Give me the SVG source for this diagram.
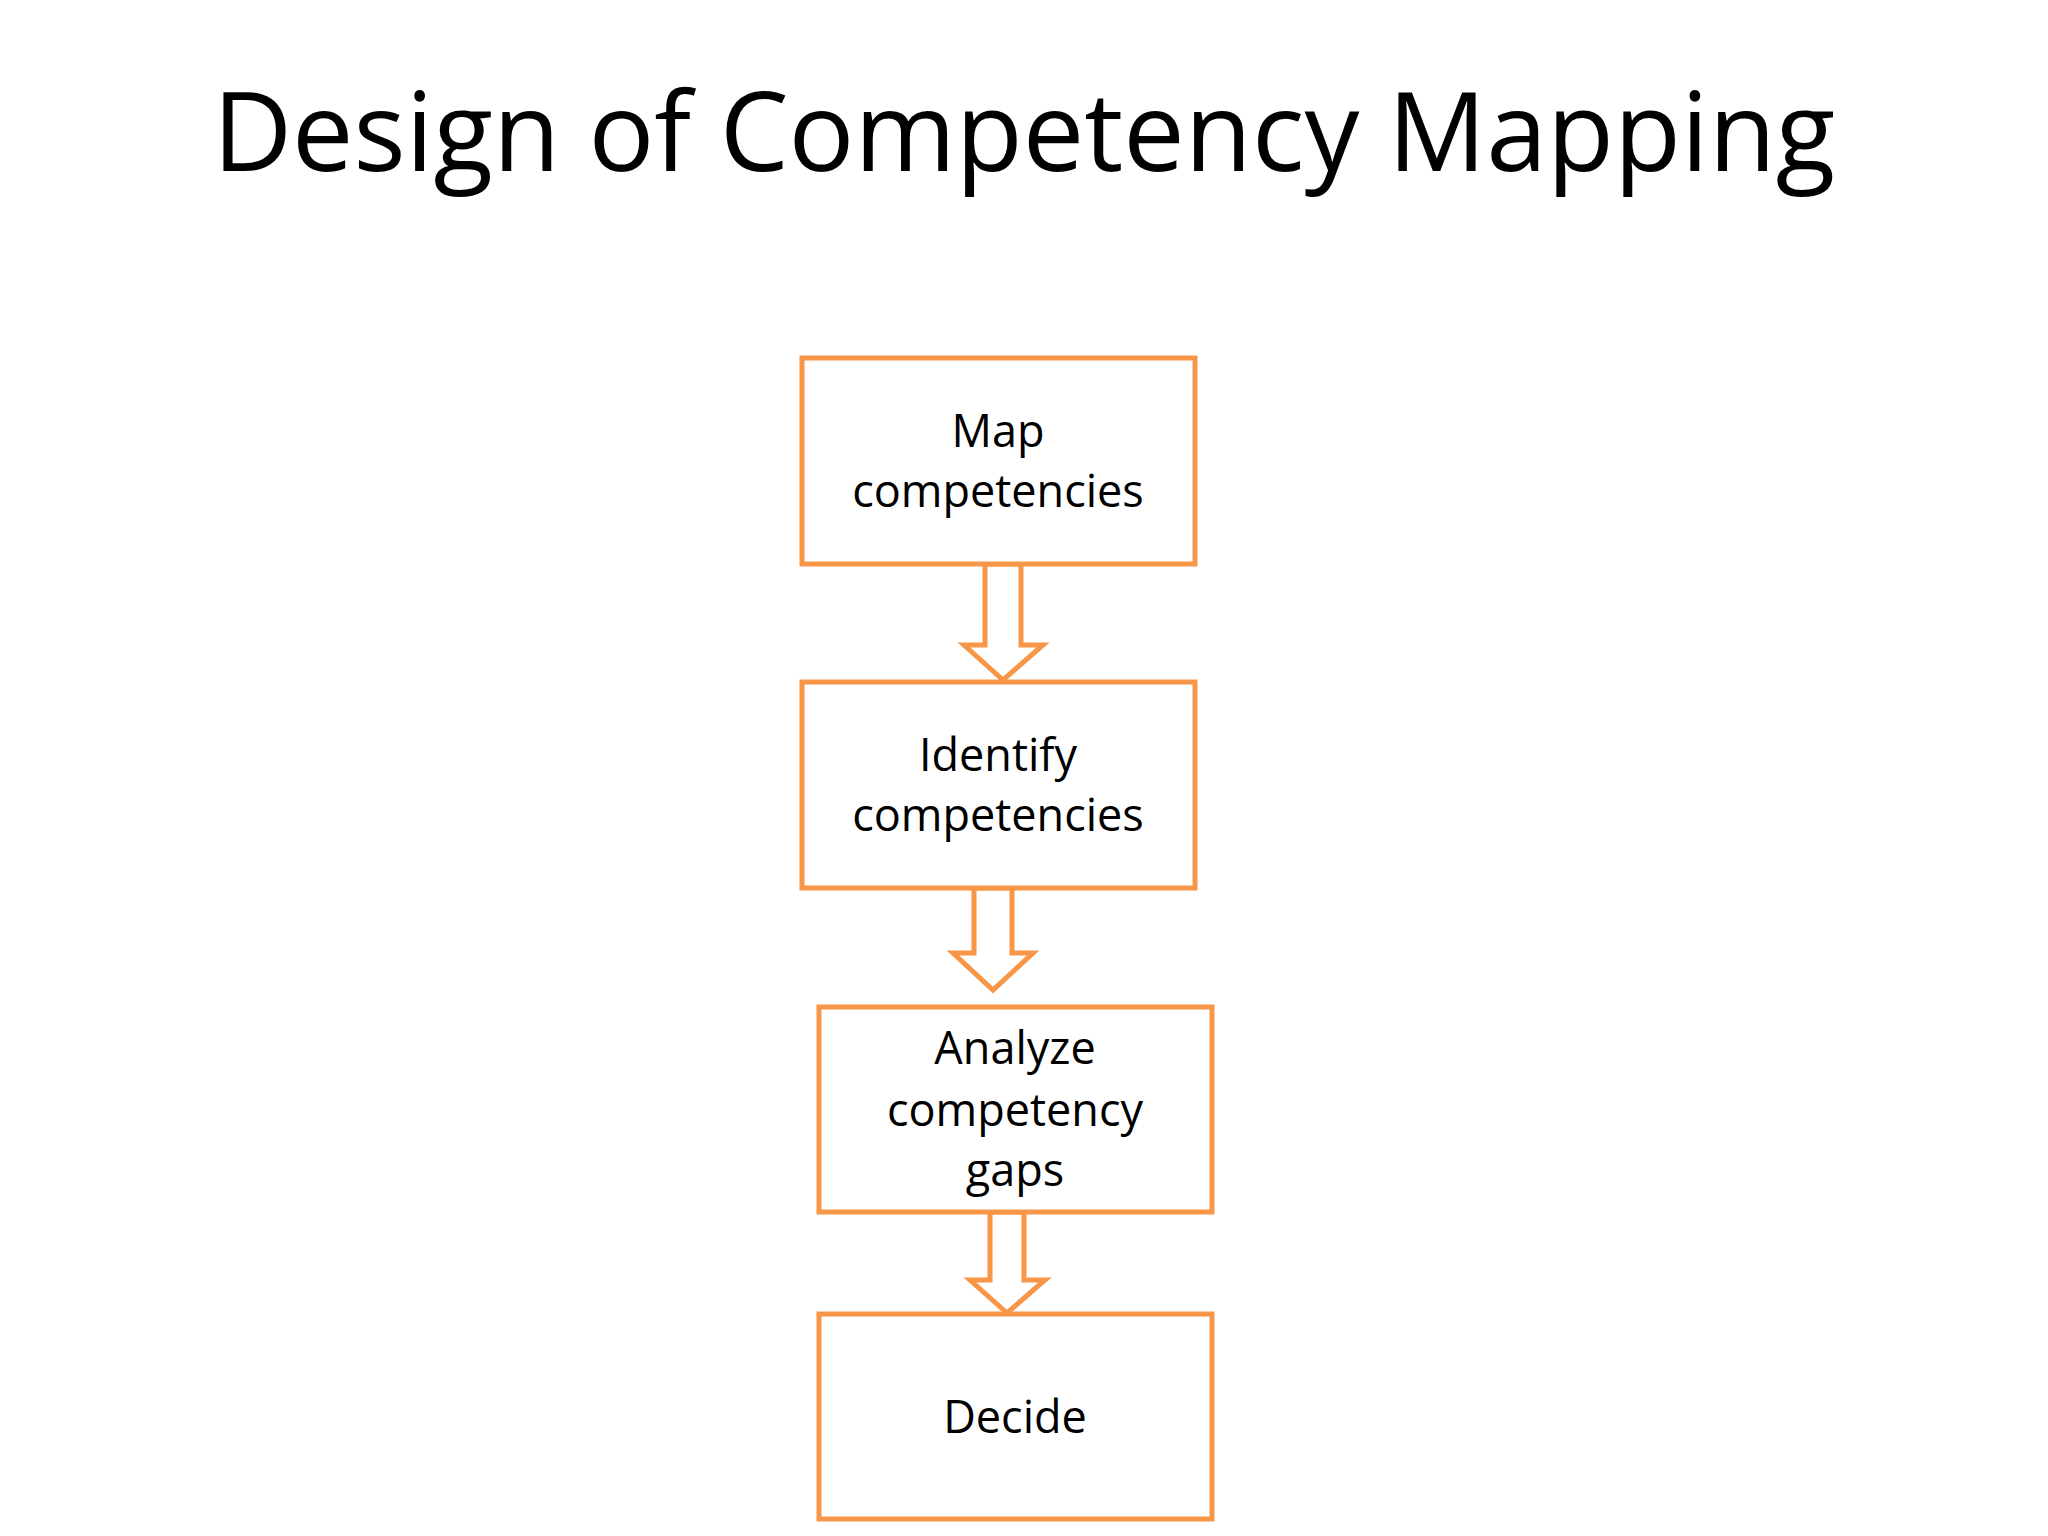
<svg xmlns="http://www.w3.org/2000/svg" width="2048" height="1536" viewBox="0 0 2048 1536">
<style>
.box{fill:#FFFFFF;stroke:#F79646;stroke-width:5}
.arr{fill:#FFFFFF;stroke:#F79646;stroke-width:5;stroke-linejoin:miter}
.t{font-family:"Open Sans","Noto Sans","DejaVu Sans",sans-serif;font-size:45px;fill:#000000;text-anchor:middle}
.title{font-family:"Open Sans","Noto Sans","DejaVu Sans",sans-serif;font-size:109.5px;fill:#000000;text-anchor:middle}
</style>
<rect width="2048" height="1536" fill="#FFFFFF"/>
<text class="title" x="1024" y="171">Design of Competency Mapping</text>
<g id="connectors">
<polygon class="arr" points="985,564 1021,564 1021,645 1043,645 1003,680 964,645 985,645"/>
<polygon class="arr" points="974,888 1012,888 1012,953 1033,953 993,990 953,953 974,953"/>
<polygon class="arr" points="990,1212 1024,1212 1024,1280 1045,1280 1007,1313 970,1280 990,1280"/>
</g>
<g id="node1">
<rect class="box" x="802" y="358" width="393" height="206"/>
<text class="t" x="998" y="447">Map</text>
<text class="t" x="998" y="507">competencies</text>
</g>
<g id="node2">
<rect class="box" x="802" y="682" width="393" height="206"/>
<text class="t" x="998" y="771">Identify</text>
<text class="t" x="998" y="831">competencies</text>
</g>
<g id="node3">
<rect class="box" x="819" y="1007" width="393" height="205"/>
<text class="t" x="1015" y="1064">Analyze</text>
<text class="t" x="1015" y="1126">competency</text>
<text class="t" x="1015" y="1186">gaps</text>
</g>
<g id="node4">
<rect class="box" x="819" y="1314" width="393" height="205"/>
<text class="t" x="1015" y="1433">Decide</text>
</g>
</svg>
